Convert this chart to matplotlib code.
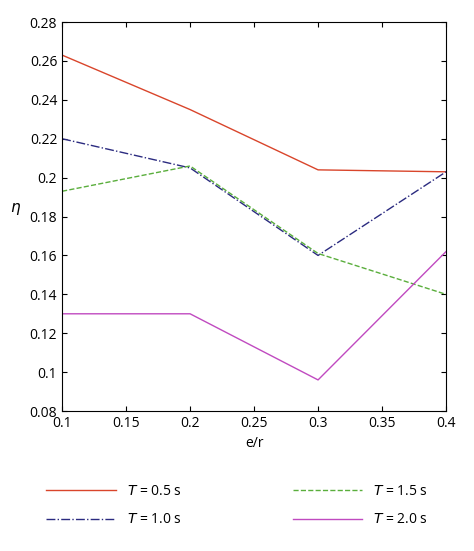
import matplotlib
matplotlib.use("Agg")
from matplotlib import pyplot as plt

plt.rcParams['font.family'] = ['Open Sans', 'DejaVu Sans']

er = [0.1, 0.2, 0.3, 0.4]
eta_05 = [0.263, 0.235, 0.204, 0.203]
eta_10 = [0.220, 0.205, 0.160, 0.203]
eta_15 = [0.193, 0.206, 0.161, 0.140]
eta_20 = [0.130, 0.130, 0.096, 0.162]

fig = plt.figure(figsize=(4.74, 5.51), dpi=100)
ax = fig.add_axes([0.131, 0.254, 0.810, 0.706])

l1, = ax.plot(er, eta_05, color="#d9452b", lw=1.0, label="$T$ = 0.5 s")
l2, = ax.plot(er, eta_10, color="#2b2b80", lw=1.0, ls="-.", label="$T$ = 1.0 s")
l3, = ax.plot(er, eta_15, color="#5aae3c", lw=1.0, ls="--", label="$T$ = 1.5 s")
l4, = ax.plot(er, eta_20, color="#c04ac0", lw=1.0, label="$T$ = 2.0 s")

ax.set_xlim(0.1, 0.4)
ax.set_ylim(0.08, 0.28)
ax.set_xticks([0.1, 0.15, 0.2, 0.25, 0.3, 0.35, 0.4])
ax.set_xticklabels(["0.1", "0.15", "0.2", "0.25", "0.3", "0.35", "0.4"])
ax.set_yticks([0.08, 0.1, 0.12, 0.14, 0.16, 0.18, 0.2, 0.22, 0.24, 0.26, 0.28])
ax.set_yticklabels(["0.08", "0.1", "0.12", "0.14", "0.16", "0.18", "0.2",
                    "0.22", "0.24", "0.26", "0.28"])
ax.tick_params(direction="in", top=True, right=True, labelsize=10)
ax.set_xlabel("e/r", fontsize=10)
ax.set_ylabel("$\\eta$", fontsize=11, rotation=0, labelpad=10)

fig.legend(handles=[l1, l2, l3, l4], loc="lower center", ncol=2, frameon=False,
           bbox_to_anchor=(0.5, 0.02), fontsize=10, handlelength=5,
           columnspacing=8, labelspacing=1.0, borderaxespad=0.5)

fig.savefig("out.png")
